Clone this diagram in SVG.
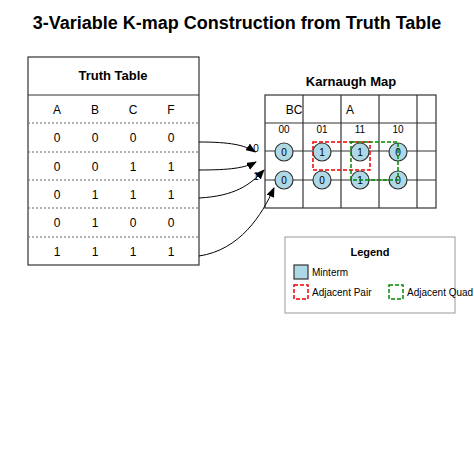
<svg xmlns="http://www.w3.org/2000/svg" width="474" height="474" viewBox="0 0 474 474">
<style>
text{font-family:"Liberation Sans",Arial,sans-serif;fill:#000}
.t{font-size:12px;text-anchor:middle}
.s{font-size:10px;text-anchor:middle}
.g{stroke:#333;stroke-width:1.2;fill:none}
.d{stroke:#666;stroke-width:1;stroke-dasharray:2,2}
.c{fill:#add8e6;stroke:#333;stroke-width:1.2}
.cn{fill:none;stroke:#000;stroke-width:1}
</style>
<defs><marker id="a" markerWidth="10" markerHeight="8" refX="9" refY="4" orient="auto" markerUnits="userSpaceOnUse"><path d="M0,0L10,4L0,8z" fill="#000"/></marker></defs>
<rect width="474" height="474" fill="#fff"/>
<text x="237" y="29" style="font-size:18px;font-weight:bold;text-anchor:middle">3-Variable K-map Construction from Truth Table</text>
<g id="truth-table">
<rect x="28" y="57" width="171" height="208" class="g"/>
<line x1="28" y1="95" x2="199" y2="95" class="g"/>
<text x="113" y="80" style="font-size:13px;font-weight:bold;text-anchor:middle">Truth Table</text>
<line x1="28" y1="123" x2="199" y2="123" class="d"/><line x1="28" y1="152" x2="199" y2="152" class="d"/><line x1="28" y1="180" x2="199" y2="180" class="d"/><line x1="28" y1="208" x2="199" y2="208" class="d"/><line x1="28" y1="237" x2="199" y2="237" class="d"/>
<text x="57" y="114" class="t">A</text><text x="95" y="114" class="t">B</text><text x="133" y="114" class="t">C</text><text x="171" y="114" class="t">F</text>
<text x="57" y="142" class="t">0</text><text x="95" y="142" class="t">0</text><text x="133" y="142" class="t">0</text><text x="171" y="142" class="t">0</text>
<text x="57" y="171" class="t">0</text><text x="95" y="171" class="t">0</text><text x="133" y="171" class="t">1</text><text x="171" y="171" class="t">1</text>
<text x="57" y="199" class="t">0</text><text x="95" y="199" class="t">1</text><text x="133" y="199" class="t">1</text><text x="171" y="199" class="t">1</text>
<text x="57" y="227" class="t">0</text><text x="95" y="227" class="t">1</text><text x="133" y="227" class="t">0</text><text x="171" y="227" class="t">0</text>
<text x="57" y="256" class="t">1</text><text x="95" y="256" class="t">1</text><text x="133" y="256" class="t">1</text><text x="171" y="256" class="t">1</text>
</g>
<g id="kmap">
<text x="351" y="86" style="font-size:13px;font-weight:bold;text-anchor:middle">Karnaugh Map</text>
<rect x="265" y="95" width="171" height="113" class="g"/>
<line x1="303" y1="95" x2="303" y2="208" class="g"/><line x1="341" y1="95" x2="341" y2="208" class="g"/><line x1="379" y1="95" x2="379" y2="208" class="g"/><line x1="417" y1="95" x2="417" y2="208" class="g"/>
<line x1="265" y1="123" x2="436" y2="123" class="g"/><line x1="265" y1="151" x2="436" y2="151" class="g"/><line x1="265" y1="180" x2="436" y2="180" class="g"/>
<text x="294" y="114" class="t">BC</text><text x="350" y="114" class="t">A</text>
<text x="284" y="133" class="s">00</text><text x="322" y="133" class="s">01</text><text x="360" y="133" class="s">11</text><text x="398" y="133" class="s">10</text>
<text x="256" y="152" class="s">0</text><text x="256" y="180" class="s">1</text>
<circle cx="284" cy="152" r="9" class="c"/><circle cx="322" cy="152" r="9" class="c"/><circle cx="360" cy="152" r="9" class="c"/><circle cx="398" cy="152" r="9" class="c"/>
<circle cx="284" cy="180" r="9" class="c"/><circle cx="322" cy="180" r="9" class="c"/><circle cx="360" cy="180" r="9" class="c"/><circle cx="398" cy="180" r="9" class="c"/>
<text x="284" y="156" class="s">0</text><text x="322" y="156" class="s">1</text><text x="360" y="156" class="s">1</text><text x="398" y="156" class="s">0</text>
<text x="284" y="184" class="s">0</text><text x="322" y="184" class="s">0</text><text x="360" y="184" class="s">1</text><text x="398" y="184" class="s">0</text>
<rect x="313" y="142" width="57" height="28" fill="none" stroke="#e00" stroke-width="1.5" stroke-dasharray="4,2"/>
<rect x="351" y="142" width="47" height="38" fill="none" stroke="#080" stroke-width="1.5" stroke-dasharray="4,2"/>
</g>
<g id="connectors">
<path d="M199,142 C230,142 245,145 255,152" class="cn" marker-end="url(#a)"/>
<path d="M199,170 C230,170 245,168 256,162" class="cn" marker-end="url(#a)"/>
<path d="M199,198 C235,196 250,185 264,170" class="cn" marker-end="url(#a)"/>
<path d="M199,256 C240,250 262,215 274,188" class="cn" marker-end="url(#a)"/>
</g>
<g id="legend">
<rect x="285" y="237" width="170" height="76" fill="#fff" stroke="#999" stroke-width="1"/>
<text x="370" y="256" style="font-size:11px;font-weight:bold;text-anchor:middle">Legend</text>
<rect x="294" y="265" width="14" height="14" class="c"/>
<text x="312" y="276" style="font-size:10px">Minterm</text>
<rect x="294" y="285" width="14" height="14" fill="none" stroke="#e00" stroke-width="1.5" stroke-dasharray="4,2"/>
<text x="312" y="296" style="font-size:10px">Adjacent Pair</text>
<rect x="389" y="285" width="14" height="14" fill="none" stroke="#080" stroke-width="1.5" stroke-dasharray="4,2"/>
<text x="407" y="296" style="font-size:10px">Adjacent Quad</text>
</g>
</svg>
